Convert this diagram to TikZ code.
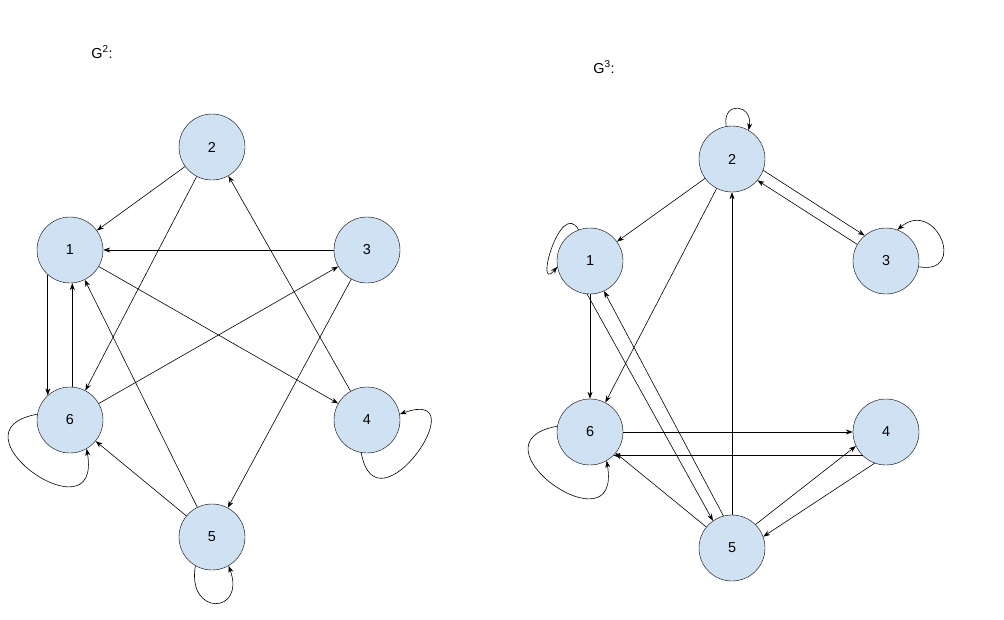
\documentclass[tikz,border=0pt]{standalone}
\usepackage{fontspec}
\setmainfont{Liberation Sans}
\usetikzlibrary{arrows.meta}
\begin{document}
\begin{tikzpicture}[x=1pt,y=-1pt,
  vert/.style={circle,draw,fill=blue!8!cyan!8!white,fill=[HTML]{CFE2F3},minimum size=66pt,inner sep=0pt,font=\Large},
  arr/.style={-{Stealth[length=7pt,width=5pt]},line width=0.6pt}]
\fill[white] (0,0) rectangle (1004,619);
\useasboundingbox (0,0) rectangle (1004,619);
\definecolor{nb}{HTML}{CFE2F3}
\tikzset{vert/.style={circle,draw,fill=nb,minimum size=66pt,inner sep=0pt,font=\Large}}
\node at (102,52) {\Large G\textsuperscript{2}:};
\node at (604,67) {\Large G\textsuperscript{3}:};
% G2
\node[vert] (a2) at (212,147) {2};
\node[vert] (a1) at (70,250) {1};
\node[vert] (a3) at (367,250) {3};
\node[vert] (a6) at (70,420) {6};
\node[vert] (a4) at (367,420) {4};
\node[vert] (a5) at (212,537) {5};
\draw[arr] (a2) -- (a1);
\draw[arr] (a3) -- (a1);
\draw[arr] (a1.228) -- (a6.132);
\draw[arr] (a6.86) -- (a1.274);
\draw[arr] (a1) -- (a4);
\draw[arr] (a2) -- (a6);
\draw[arr] (a6) -- (a3);
\draw[arr] (a3) -- (a5);
\draw[arr] (a4) -- (a2);
\draw[arr] (a5) -- (a1);
\draw[arr] (a5) -- (a6);
\draw[arr] (a6.170) to[out=190,in=-80,looseness=4] (a6.-60);
\draw[arr] (a4.-100) to[out=-80,in=20,looseness=4] (a4.10);
\draw[arr] (a5.-120) to[out=-100,in=-70,looseness=4] (a5.-60);
% G3
\node[vert] (b2) at (732,159) {2};
\node[vert] (b1) at (590,261) {1};
\node[vert] (b3) at (886,261) {3};
\node[vert] (b6) at (590,432) {6};
\node[vert] (b4) at (886,432) {4};
\node[vert] (b5) at (732,548) {5};
\draw[arr] (b2.100) to[out=100,in=80,looseness=3] (b2.60);
\draw[arr] (b3.-10) to[out=-10,in=40,looseness=3] (b3.70);
\draw[arr] (b1.110) to[out=120,in=230,looseness=2.2] (b1.190);
\draw[arr] (b6.170) to[out=190,in=-80,looseness=4] (b6.-60);
\draw[arr] (b2) -- (b1);
\draw[arr] (b2.-20) -- (b3.130);
\draw[arr] (b3.150) -- (b2.-40);
\draw[arr] (b2) -- (b6);
\draw[arr] (b1) -- (b6);
\draw[arr] (b1.-95) -- (b5.125);
\draw[arr] (b5.105) -- (b1.-65);
\draw[arr] (b5) -- (b2);
\draw[arr] (b6.0) -- (b4.180);
\draw[arr] (b4.-135) -- (b6.-45);
\draw[arr] (b5) -- (b6);
\draw[arr] (b5.45) -- (b4.-155);
\draw[arr] (b4.-110) -- (b5.20);
\end{tikzpicture}
\end{document}
